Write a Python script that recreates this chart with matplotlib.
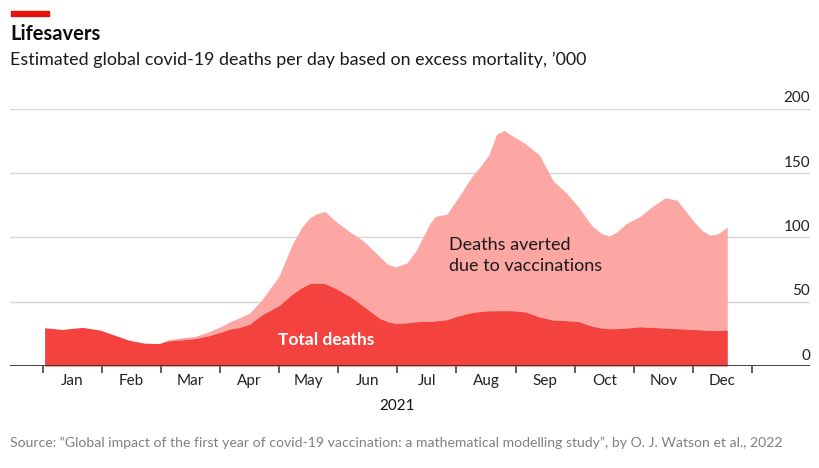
import numpy as np
import pandas as pd
import matplotlib
matplotlib.use('Agg')
import matplotlib.pyplot as plt
from matplotlib.patches import Rectangle

plt.rcParams['font.family'] = ['Lato', 'DejaVu Sans']

# estimated global covid-19 deaths per day, '000
dates = ['2021-01-02', '2021-01-11', '2021-01-22', '2021-01-31', '2021-02-07',
         '2021-02-14', '2021-02-21', '2021-02-28', '2021-03-05', '2021-03-13',
         '2021-03-19', '2021-03-26', '2021-04-02', '2021-04-06', '2021-04-11',
         '2021-04-16', '2021-04-22', '2021-05-01', '2021-05-08', '2021-05-13',
         '2021-05-17', '2021-05-21', '2021-05-25', '2021-05-31', '2021-06-07',
         '2021-06-13', '2021-06-18', '2021-06-22', '2021-06-26', '2021-06-30',
         '2021-07-06', '2021-07-11', '2021-07-18', '2021-07-21', '2021-07-27',
         '2021-08-02', '2021-08-09', '2021-08-14', '2021-08-18', '2021-08-22',
         '2021-08-26', '2021-08-30', '2021-09-06', '2021-09-13', '2021-09-20',
         '2021-09-27', '2021-10-03', '2021-10-10', '2021-10-15', '2021-10-19',
         '2021-10-23', '2021-10-28', '2021-11-04', '2021-11-10', '2021-11-17',
         '2021-11-23', '2021-12-01', '2021-12-06', '2021-12-10', '2021-12-14',
         '2021-12-19']
total_deaths = [29.7, 28.4, 30.0, 27.9, 24.0,
                20.0, 17.8, 17.4, 19.5, 20.5,
                21.4, 23.5, 26.5, 28.7, 30.0,
                32.5, 39.5, 47.0, 56.0, 61.0,
                64.0, 64.5, 64.0, 60.0, 54.0,
                47.3, 41.5, 37.0, 34.5, 33.1,
                33.5, 34.4, 34.8, 35.0, 36.0,
                39.0, 41.5, 42.5, 42.9, 43.0,
                43.0, 43.0, 42.0, 38.2, 35.7,
                35.2, 34.5, 31.0, 29.5, 29.0,
                29.0, 29.5, 30.5, 30.0, 29.5,
                29.0, 28.4, 28.0, 27.6, 27.5,
                27.9]
# total deaths + deaths averted
with_averted = [29.7, 28.4, 30.0, 27.9, 24.0,
                20.0, 17.8, 17.4, 20.5, 22.0,
                23.0, 26.5, 31.0, 34.4, 37.5,
                41.0, 51.0, 70.0, 95.0, 108.0,
                115.0, 118.5, 120.0, 112.0, 104.0,
                98.0, 91.0, 85.0, 79.0, 77.0,
                80.0, 90.0, 110.6, 116.3, 118.0,
                131.0, 147.0, 156.0, 164.0, 180.0,
                183.0, 179.0, 172.6, 164.0, 144.0,
                134.0, 123.5, 109.0, 103.0, 101.0,
                104.0, 110.6, 116.0, 123.5, 130.7,
                128.7, 113.0, 105.0, 101.6, 102.5,
                108.0]
months = ['Jan', 'Feb', 'Mar', 'Apr', 'May', 'Jun',
          'Jul', 'Aug', 'Sep', 'Oct', 'Nov', 'Dec']
yticks = [0, 50, 100, 150, 200]

d = pd.to_datetime(dates)
# months are drawn evenly spaced, so position = month index + fraction of month
x = np.array((d.month - 1) + (d.day - 1) / d.days_in_month)

fig = plt.figure(figsize=(8.2, 4.68), dpi=100)
ax = fig.add_axes([10 / 820, 102 / 468, 800 / 820, 257.5 / 468])

red = '#F4423F'
pink = '#FCA7A4'

for v in yticks[1:]:
    ax.axhline(v, color='#d6d6d6', lw=1.0, zorder=0)
ax.fill_between(x, total_deaths, with_averted, color=pink, lw=0, zorder=1)
ax.fill_between(x, 0, total_deaths, color=red, lw=0, zorder=2)
ax.axhline(0, color='#333333', lw=1.3, zorder=3)

ax.set_xlim(-0.553, 12.98)
ax.set_ylim(0, 200)
for s in ax.spines.values():
    s.set_visible(False)
ax.set_yticks([])
ax.set_xticks(range(13))
ax.set_xticklabels([])
ax.tick_params(axis='x', length=5, width=1.1, color='#333333')
for i, m in enumerate(months):
    ax.text(i + 0.5, -6, m, ha='center', va='top', fontsize=11, color='#222222')
ax.text(6, -26, '2021', ha='center', va='top', fontsize=11, color='#111111')
for v in yticks:
    ax.text(12.98, v + 2.5, str(v), ha='right', va='bottom', fontsize=11,
            color='#222222')

ax.text(4.8, 20.5, 'Total deaths', ha='center', va='center', fontsize=12.5,
        fontweight='bold', color='white', zorder=4)
ax.text(6.88, 100, 'Deaths averted\ndue to vaccinations', ha='left', va='top',
        fontsize=13, color='#1a1a1a', linespacing=1.4, zorder=4)

fig.patches.append(Rectangle((11 / 820, 1 - 16 / 468), 38 / 820, 5 / 468,
                             transform=fig.transFigure, color='#E3120B'))
fig.text(10 / 820, 1 - 34 / 468, 'Lifesavers', ha='left', va='center',
         fontsize=14.5, fontweight='bold', color='#0d0d0d')
fig.text(10 / 820, 1 - 60 / 468,
         'Estimated global covid-19 deaths per day based on excess mortality, \u2019000',
         ha='left', va='center', fontsize=12.9, color='#1a1a1a')
fig.text(10 / 820, 1 - 443 / 468,
         'Source: \u201cGlobal impact of the first year of covid-19 vaccination: '
         'a mathematical modelling study\u201d, by O. J. Watson et al., 2022',
         ha='left', va='center', fontsize=10.1, color='#808080')

fig.savefig('out.png', dpi=100)
